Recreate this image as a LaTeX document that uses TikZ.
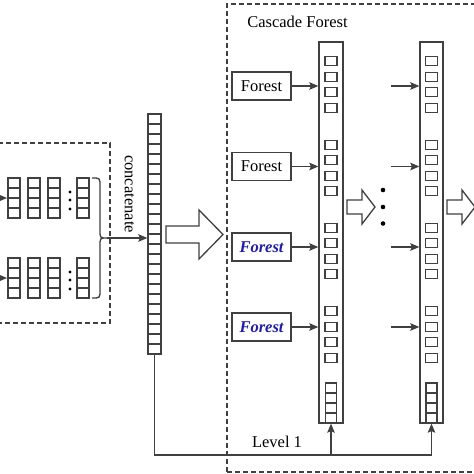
\documentclass[tikz,border=0pt]{standalone}
\usepackage{fontspec}
\setmainfont{Liberation Serif}
\usetikzlibrary{arrows.meta}
\definecolor{ln}{HTML}{404040}
\definecolor{fblue}{HTML}{1E1EA6}
\begin{document}
\begin{tikzpicture}[x=1pt,y=-1pt,
  lbl/.style={font=\fontsize{16.5}{18}\selectfont, text=black, inner sep=0pt},
  arr/.style={draw=ln, line width=1.3pt, -{Stealth[length=9pt,width=7.5pt,inset=1.5pt]}},
  plain/.style={draw=ln, line width=1.3pt},
  thin/.style={draw=ln, line width=1.1pt},
  dashbox/.style={draw=ln, line width=1.2pt, dash pattern=on 5pt off 3pt},
  forestbox/.style={draw=ln, line width=1.3pt, minimum width=59pt, minimum height=28pt, inner sep=0pt, font=\fontsize{16.5}{18}\selectfont},
  forestit/.style={forestbox, font=\fontsize{16.5}{18}\selectfont\bfseries\itshape, text=fblue},
  colbox/.style={draw=ln, line width=1.3pt, inner sep=0pt},
  hollow/.style={draw=ln, line width=1.3pt, fill=white, line join=miter},
  dot/.style={fill=black, draw=none}
]
\clip (0,0) rectangle (474,474);
\fill[white] (0,0) rectangle (474,474);

% ---- left dashed box with multi-grained feature vectors
\draw[dashbox] (-10,143) -- (110,143) -- (110,323) -- (-10,323);
\foreach \gy in {178,258}{
  \foreach \gx in {8,28,48,77}{
    \foreach \k in {0,1,2,3}{
      \draw[thin] (\gx,\gy+10*\k) rectangle (\gx+12,\gy+10*\k+10);
    }
  }
  \fill[dot] (70,\gy+14) circle (1.7pt);
  \fill[dot] (70,\gy+22) circle (1.7pt);
  \fill[dot] (70,\gy+31) circle (1.7pt);
}
\coordinate (inA0) at (-12,198);
\coordinate (inA1) at (7,198);
\coordinate (inB0) at (-12,278);
\coordinate (inB1) at (7,278);
\draw[arr] (inA0) -- (inA1);
\draw[arr] (inB0) -- (inB1);

% brace
\draw[plain] (92,178) .. controls (100,178) .. (100,186) -- (100,230)
  .. controls (100,238) .. (107,238) .. controls (100,238) .. (100,246)
  -- (100,290) .. controls (100,298) .. (92,298);
\coordinate (cusp) at (107,238);

% ---- concatenated vector
\node[colbox, minimum width=13pt, minimum height=240pt] (concat) at (154.5,234) {};
\foreach \i in {1,...,23}{
  \draw[thin] (148,114+10*\i) -- (161,114+10*\i);
}
\coordinate (catin) at (concat.west |- cusp);
\draw[arr] (cusp) -- (catin);
\node[lbl, rotate=-90] (cattext) at (129.5,194) {concatenate};

% big hollow arrow
\draw[hollow] (166,226) -- (199,226) -- (199,210) -- (223,234.5) -- (199,259) -- (199,243) -- (166,243) -- cycle;

% ---- cascade forest dashed box
\draw[dashbox] (227,480) -- (227,4) -- (480,4);
\draw[dashbox] (227,472) -- (480,472);
\node[lbl] (cftitle) at (297.5,22) {Cascade Forest};

% forest boxes
\node[forestbox] (f1) at (261.5,86) {Forest};
\node[forestbox] (f2) at (261.5,166.5) {Forest};
\node[forestit] (f3) at (261.5,247) {Forest};
\node[forestit] (f4) at (261.5,327) {Forest};

% level-1 columns
\node[colbox, minimum width=24pt, minimum height=381pt] (col1) at (331,232.5) {};
\node[colbox, minimum width=23pt, minimum height=381pt] (col2) at (431.5,232.5) {};

\foreach \cx in {331,431.5}{
  \foreach \gc in {84.5,168,251,334.5}{
    \foreach \o in {-23.25,-7.75,7.75,23.25}{
      \draw[thin] (\cx-6,\gc+\o-4.5) rectangle (\cx+6,\gc+\o+4.5);
    }
  }
  \foreach \k in {0,1,2,3}{
    \draw[thin] (\cx-5.5,383+10*\k) rectangle (\cx+5.5,393+10*\k);
  }
}

% arrows forest -> column 1
\draw[arr] (f1.east) -- (f1.east -| col1.west);
\draw[arr] (f2.east) -- (f2.east -| col1.west);
\draw[arr] (f3.east) -- (f3.east -| col1.west);
\draw[arr] (f4.east) -- (f4.east -| col1.west);

% arrows into column 2
\foreach \yy/\nm in {86/a,166.5/b,247/c,327/d}{
  \coordinate (c2\nm) at (391,\yy);
  \draw[arr] (c2\nm) -- (c2\nm -| col2.west);
}

% hollow arrows between / after columns
\draw[hollow] (347,200) -- (362,200) -- (362,190) -- (375,207) -- (362,224) -- (362,214) -- (347,214) -- cycle;
\draw[hollow] (447,200) -- (462,200) -- (462,190) -- (475,207) -- (462,224) -- (462,214) -- (447,214) -- cycle;
\fill[dot] (383,190) circle (2.3pt);
\fill[dot] (383,207) circle (2.3pt);
\fill[dot] (383,223.5) circle (2.3pt);

% feedback line of the raw feature vector
\coordinate (bus) at (431.5,455);
\draw[plain] (concat.south) |- (bus);
\draw[arr] (bus) -- (col2.south);
\coordinate (bus1) at (col1.south |- bus);
\draw[arr] (bus1) -- (col1.south);
\node[lbl] (lev) at (277,442) {Level 1};
\end{tikzpicture}
\end{document}
